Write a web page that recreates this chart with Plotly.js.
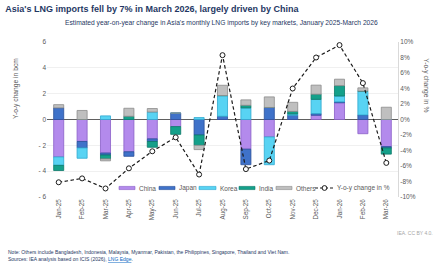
<!DOCTYPE html>
<html><head><meta charset="utf-8">
<script src="https://cdn.plot.ly/plotly-3.0.1.min.js"></script>
<style>html,body{margin:0;padding:0;background:#fff;}#chart{width:445px;height:264px;}</style>
</head><body><div id="chart"></div>
<script>
const months = ["Jan-25","Feb-25","Mar-25","Apr-25","May-25","Jun-25","Jul-25","Aug-25","Sep-25","Oct-25","Nov-25","Dec-25","Jan-26","Feb-26","Mar-26"];
const china  = [-2.9, -1.7, -2.6, -2.5, -1.5, -0.55, 0, 0, -2.3, -1.35, 0, 0.33, 1.3, -1.1, -2.1];
const japan  = [0.9, -0.5, -0.15, -0.35, -0.2, 0.5, -1.2, 0.25, -1.2, 0.93, 0.33, 0.13, 0.07, 0.35, -0.1];
const korea  = [-0.65, -0.8, 0.28, 0, 0.58, 0, 0.15, 1.6, 0.9, -2.15, 0.1, 1.1, 0.45, 1.85, 0];
const india  = [-0.4, 0, -0.3, 0.25, -0.45, -0.6, -0.8, 0, 0.2, 0, 0.2, 0.4, 0.8, 0, -0.48];
const others = [0.25, 0.7, -0.15, 0.62, 0.27, 0, -0.33, 0.8, 0.42, 0.82, 0.7, 0.7, 0.5, 0.25, 0.95];
const yoyPct = [-8.1, -7.6, -8.9, -6.3, -4.1, -2.3, -7.1, 8.3, -6.4, -5.3, 4.0, 8.0, 9.6, 4.7, -5.6];
const leftTickVals = [-6, -4, -2, 0, 2, 4, 6];
const leftTickText = ["- 6", "- 4", "- 2", "0", "2", "4", "6"];
const rightTickVals = [-10, -8, -6, -4, -2, 0, 2, 4, 6, 8, 10];
const rightTickText = ["-10%", "-8%", "-6%", "-4%", "-2%", "0%", "2%", "4%", "6%", "8%", "10%"];
const seriesNames = ["China", "Japan", "Korea", "India", "Others"];
const lineName = "Y-o-y change in %";

const FONT = "Liberation Sans, Arial, sans-serif";
const fills = ["#b38aec", "#3f72c9", "#58d3f3", "#14a08a", "#bfbfbf"];
const edges = ["#8a5fc8", "#2a4f99", "#2ea8cf", "#0b7868", "#8c8c8c"];
const values = [china, japan, korea, india, others];

const data = values.map((v, i) => ({
  type: "bar", name: seriesNames[i], x: months, y: v,
  marker: {color: fills[i], line: {color: edges[i], width: 0.8}}, hoverinfo: "skip"
}));
data.push({type: "scatter", mode: "lines+markers", name: lineName, x: months, y: yoyPct, yaxis: "y2",
  line: {color: "#1a1a1a", width: 1.2, dash: "3.5px,2.5px"},
  marker: {symbol: "circle", size: 5, color: "#ffffff", line: {color: "#1a1a1a", width: 1}}, hoverinfo: "skip"});

// custom legend (pixel positions converted to paper coordinates)
const plotL = 47, plotW = 351, plotB = 197, plotH = 155;
const px = p => (p - plotL) / plotW;
const py = p => (plotB - p) / plotH;
const legY = 188;
const legRects = [[119, 135, 137], [159, 175, 177], [199, 216, 218], [239, 255, 257], [276, 292, 294]];
const shapes = [];
const annotations = [];
legRects.forEach((r, i) => {
  shapes.push({type: "rect", xref: "paper", yref: "paper", x0: px(r[0]), x1: px(r[1]), y0: py(legY + 1.6), y1: py(legY - 1.6),
    fillcolor: fills[i], line: {color: edges[i], width: 0.6}});
  annotations.push({text: seriesNames[i], xref: "paper", yref: "paper", x: px(r[2]), y: py(legY), xanchor: "left", yanchor: "middle",
    showarrow: false, font: {family: FONT, size: 6.5, color: "#595959"}});
});
shapes.push({type: "line", xref: "paper", yref: "paper", x0: px(315), x1: px(334), y0: py(legY), y1: py(legY),
  line: {color: "#1a1a1a", width: 1.1, dash: "3px,2px"}});
shapes.push({type: "circle", xref: "paper", yref: "paper", xsizemode: "pixel", ysizemode: "pixel",
  xanchor: px(324.5), yanchor: py(legY), x0: -2.4, x1: 2.4, y0: -2.4, y1: 2.4,
  fillcolor: "#ffffff", line: {color: "#1a1a1a", width: 1}});
annotations.push({text: lineName, xref: "paper", yref: "paper", x: px(335), y: py(legY), xanchor: "left", yanchor: "middle",
  showarrow: false, font: {family: FONT, size: 6.5, color: "#595959"}});

annotations.push(
  {text: "Estimated year-on-year change in Asia's monthly LNG imports by key markets, January 2025-March 2026",
   xref: "paper", yref: "paper", x: 0.497, y: 1.12, xanchor: "center", yanchor: "middle", showarrow: false,
   font: {family: FONT, size: 6.7, color: "#1f3864"}},
  {text: "Y-o-y change in bcm", xref: "paper", yref: "paper", x: -0.09, y: 0.7, textangle: -90,
   xanchor: "center", yanchor: "middle", showarrow: false, font: {family: FONT, size: 6.7, color: "#595959"}},
  {text: "Y-o-y change in %", xref: "paper", yref: "paper", x: 1.08, y: 0.72, textangle: 90,
   xanchor: "center", yanchor: "middle", showarrow: false, font: {family: FONT, size: 6.7, color: "#595959"}},
  {text: "IEA. CC BY 4.0.", xref: "paper", yref: "paper", x: 1.105, y: -0.235, xanchor: "right", yanchor: "middle",
   showarrow: false, font: {family: FONT, size: 5, color: "#a6a6a6"}},
  {text: "Note: Others include Bangladesh, Indonesia, Malaysia, Myanmar, Pakistan, the Philippines, Singapore, Thailand and Viet Nam.",
   xref: "paper", yref: "paper", x: -0.117, y: -0.353, xanchor: "left", yanchor: "middle", showarrow: false,
   font: {family: FONT, size: 5, color: "#1f3864"}},
  {text: "Sources: IEA analysis based on ICIS (2026), <span style='text-decoration:underline;color:#0563c1'>LNG Edge</span>.",
   xref: "paper", yref: "paper", x: -0.117, y: -0.402, xanchor: "left", yanchor: "middle", showarrow: false,
   font: {family: FONT, size: 5, color: "#1f3864"}}
);

const layout = {
  width: 445, height: 264,
  margin: {l: 47, r: 47, t: 42, b: 67, pad: 0},
  paper_bgcolor: "#ffffff", plot_bgcolor: "#ffffff",
  font: {family: FONT, size: 6.5, color: "#595959"},
  barmode: "relative", bargap: 0.57,
  showlegend: false,
  title: {text: "<b>Asia's LNG imports fell by 7% in March 2026, largely driven by China</b>",
    x: 0.012, xanchor: "left", y: 0.965, yanchor: "middle", font: {family: FONT, size: 9, color: "#1f3864"}},
  xaxis: {type: "category", tickangle: -90, tickfont: {size: 6.3, color: "#595959"},
    showgrid: false, showline: false, ticks: "", range: [-0.5, 14.5]},
  yaxis: {range: [-6, 6], tickvals: leftTickVals, ticktext: leftTickText, showgrid: true, gridcolor: "#ececec", gridwidth: 0.8,
    zeroline: true, zerolinecolor: "#606060", zerolinewidth: 1, ticks: "", tickfont: {size: 6.5, color: "#595959"}},
  yaxis2: {range: [-10, 10], overlaying: "y", side: "right", tickvals: rightTickVals, ticktext: rightTickText,
    showgrid: false, zeroline: false, showline: true, linecolor: "#d9d9d9", linewidth: 1, ticks: "",
    tickfont: {size: 6.5, color: "#595959"}},
  shapes: shapes,
  annotations: annotations
};
Plotly.newPlot("chart", data, layout, {staticPlot: true, displayModeBar: false});
</script></body></html>
